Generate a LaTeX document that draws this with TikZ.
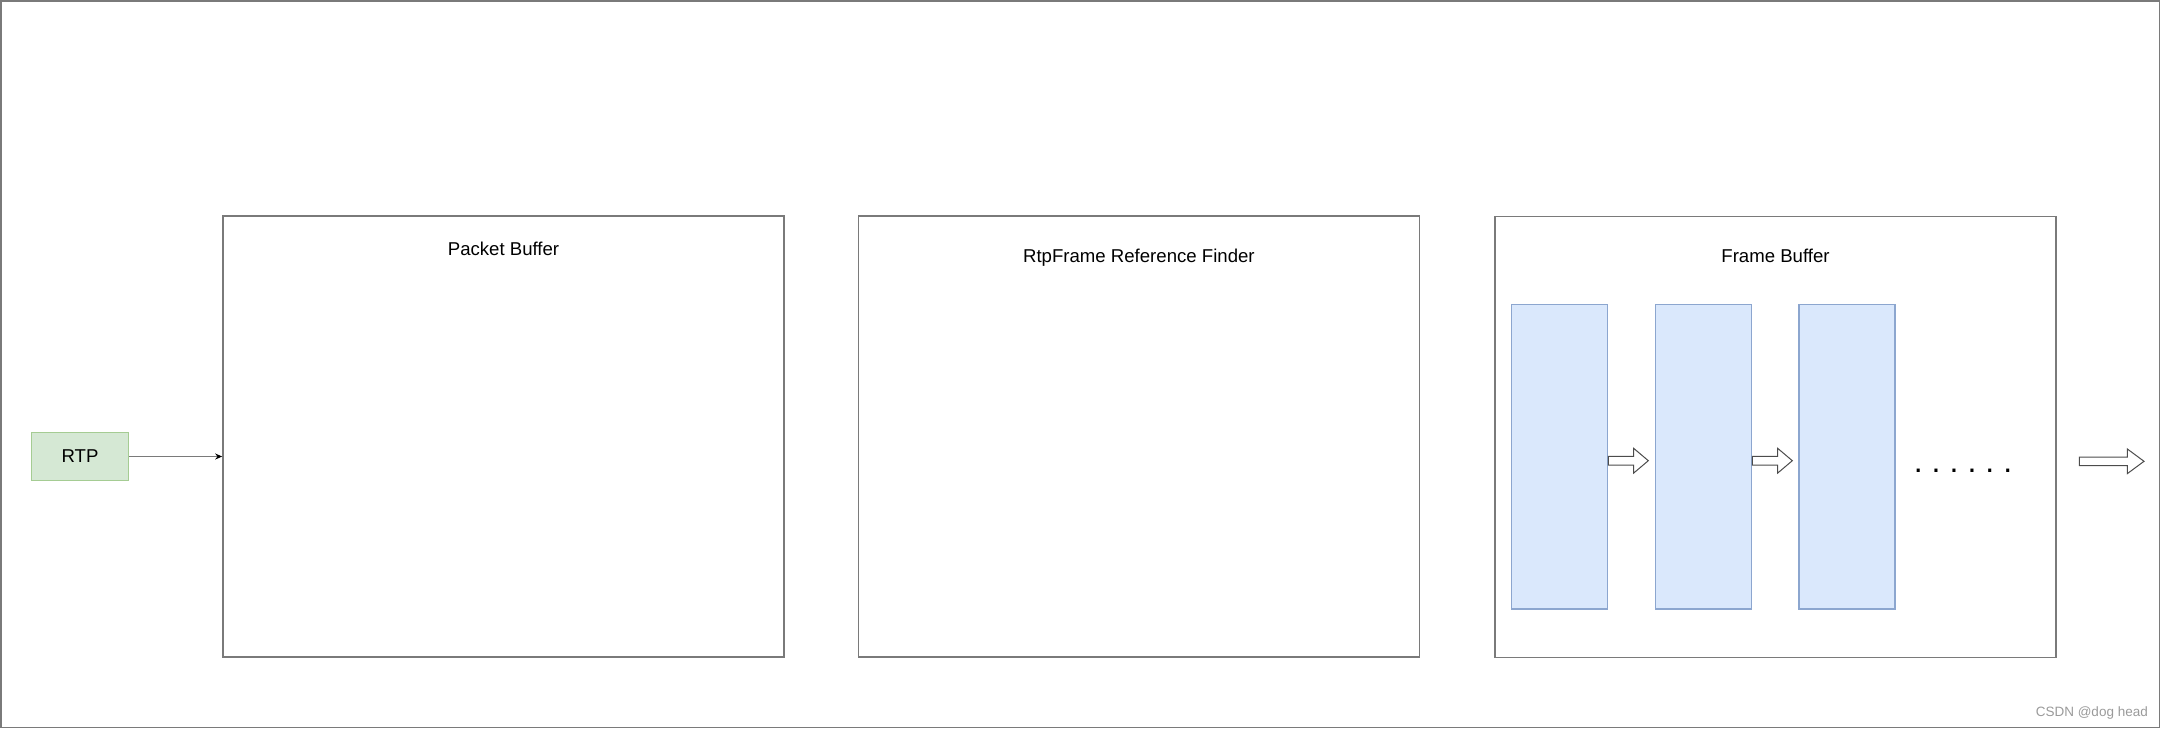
\documentclass[tikz,border=0pt]{standalone}
\usepackage{fontspec}
\setmainfont{Liberation Sans}
\usetikzlibrary{arrows.meta,calc}
\definecolor{boxgray}{HTML}{7A7A7A}
\definecolor{framefill}{HTML}{DAE8FC}
\definecolor{framedraw}{HTML}{8CA6CF}
\definecolor{rtpfill}{HTML}{D5E8D4}
\definecolor{rtpdraw}{HTML}{A5CC93}
\definecolor{wmgray}{HTML}{9A9A9A}
\tikzset{
  bigbox/.style={draw=boxgray, line width=1.6pt, fill=white, inner sep=0pt,
    minimum width=561pt, minimum height=441pt},
  title/.style={anchor=base, inner sep=0pt, font=\fontsize{18.6}{22}\selectfont},
  framebox/.style={draw=framedraw, fill=framefill, line width=1.4pt, inner sep=0pt,
    minimum width=96pt, minimum height=304.5pt},
  rtpbox/.style={draw=rtpdraw, fill=rtpfill, line width=1.4pt, inner sep=0pt,
    minimum width=96.6pt, minimum height=48.4pt, font=\fontsize{18.6}{22}\selectfont},
  thinarrow/.style={draw=boxgray, line width=1.5pt, -{Stealth[length=7pt,width=6pt,black]}},
  blockarrow/.style={draw=black!70, line width=1pt, fill=white, line join=miter},
  outer/.style={draw=boxgray, line width=1.5pt}
}
\newcommand{\dk}{\kern9pt}
\begin{document}
\begin{tikzpicture}[x=1pt, y=-1pt]
\useasboundingbox (0,0) rectangle (2161,729);
\draw[outer] (0.75,0.75) rectangle (2159.6,727.6);

% main boxes
\node[bigbox] (pb) at (503.5,436.5) {};
\node[bigbox] (rf) at (1138.9,436.5) {};
\node[bigbox] (fb) at (1775.5,436.8) {};

\node[title] (pbt) at (503.5,255) {Packet Buffer};
\node[title] (rft) at (1138.9,262.7) {RtpFrame Reference Finder};
\node[title] (fbt) at (1775.5,262.3) {Frame Buffer};

% RTP input
\node[rtpbox] (rtp) at (80,456.5) {RTP};
\draw[thinarrow] (rtp.east) -- (rtp.east -| pb.west);

% frames
\node[framebox] (f1) at (1559.6,456.7) {};
\node[framebox] (f2) at (1703.6,456.7) {};
\node[framebox] (f3) at (1847.1,456.7) {};

% block arrows between frames
\draw[blockarrow] ($(f1.east)+(0,-0.3)$) -- ++(25.4,0) -- ++(0,-8.05) -- ++(14.6,12.35)
  -- ++(-14.6,12.35) -- ++(0,-8.05) -- ++(-25.4,0) -- cycle;
\draw[blockarrow] ($(f2.east)+(0,-0.3)$) -- ++(25.4,0) -- ++(0,-8.05) -- ++(14.6,12.35)
  -- ++(-14.6,12.35) -- ++(0,-8.05) -- ++(-25.4,0) -- cycle;

% dots
\node[anchor=base, inner sep=0pt, font=\fontsize{32}{36}\selectfont] (dots) at (1963,472.5) {.\dk.\dk.\dk.\dk.\dk.};

% output block arrow
\coordinate (out) at (2079.3,460.7);
\draw[blockarrow] ($(out)+(0,-3.7)$) -- ++(48,0) -- ++(0,-8.05) -- ++(16.7,12.35)
  -- ++(-16.7,12.35) -- ++(0,-8.05) -- ++(-48,0) -- cycle;

% watermark
\node[anchor=base east, inner sep=0pt, text=wmgray, font=\fontsize{13.5}{16}\selectfont] (wm) at (2148,716.7) {CSDN @dog head};
\end{tikzpicture}
\end{document}
